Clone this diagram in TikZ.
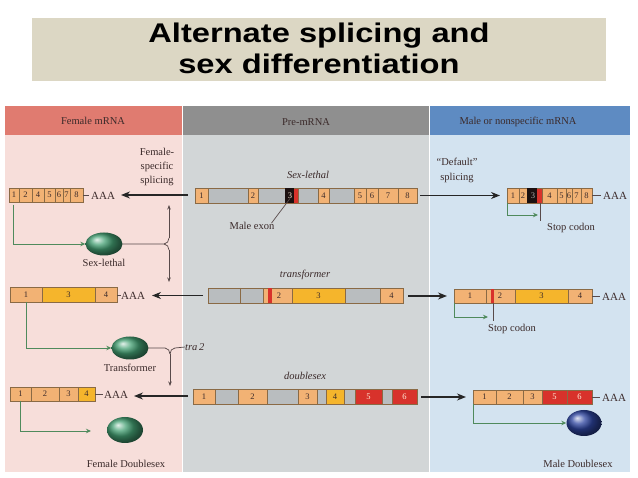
\documentclass[tikz,border=0pt]{standalone}
\usepackage{fontspec}
\setmainfont{Liberation Serif}
\newfontfamily\titlefont{Liberation Sans}
\usetikzlibrary{arrows.meta,calc,shapes.geometric}
\definecolor{titlebg}{HTML}{DCD7C4}
\definecolor{femhead}{HTML}{E07B70}
\definecolor{fembody}{HTML}{F7DEDA}
\definecolor{prehead}{HTML}{8F8F8F}
\definecolor{prebody}{HTML}{D2D6D7}
\definecolor{malehead}{HTML}{5E8BC2}
\definecolor{malebody}{HTML}{D3E3F0}
\definecolor{exlight}{HTML}{F2B274}
\definecolor{exyellow}{HTML}{F5B52C}
\definecolor{exgray}{HTML}{B9BDBF}
\definecolor{exred}{HTML}{D8322B}
\definecolor{exblack}{HTML}{1B1010}
\definecolor{exline}{HTML}{8A6A45}
\definecolor{txt}{HTML}{3B2A2A}
\definecolor{grn}{HTML}{4F8A5C}
\definecolor{protg}{HTML}{44A073}
\definecolor{protb}{HTML}{2E45A0}
\newcommand\myexon[7][txt]{%
  \filldraw[fill=#6, draw=exline, line width=0.4pt] (#2,#4) rectangle (#3,#5);
  \node[num, text=#1] (ex-#2-#4) at ($(#2,#4)!0.5!(#3,#5)$) {#7};}
\begin{document}
\begin{tikzpicture}[x=1pt,y=-1pt,
  lbl/.style={font=\fontsize{10.5}{12}\selectfont, text=txt, inner sep=0pt},
  gname/.style={font=\fontsize{10.5}{12}\selectfont\itshape, text=txt, inner sep=0pt},
  head/.style={font=\fontsize{10.5}{12}\selectfont, text=txt, inner sep=0pt},
  num/.style={font=\fontsize{8.5}{9}\selectfont, inner sep=0pt},
  aaa/.style={font=\fontsize{11}{12}\selectfont, text=txt, inner sep=0pt, anchor=west},
  bigarrow/.style={draw=black!85, line width=1.4pt, -{Stealth[length=9pt,width=7pt]}},
  grarrow/.style={draw=grn, line width=0.9pt, -{Stealth[length=5pt,width=4.5pt]}},
  thinl/.style={draw=txt!85, line width=0.7pt},
  tharrow/.style={draw=txt!85, line width=0.7pt, -{Stealth[length=4.5pt,width=3.5pt]}},
  protein/.style={ellipse, inner sep=0pt, minimum width=37pt, minimum height=23pt},
  titletext/.style={font=\titlefont\bfseries\fontsize{27}{30}\selectfont, inner sep=0pt, anchor=base}]
\useasboundingbox (0,0) rectangle (638,478);
\fill[white] (0,0) rectangle (638,478);
% title
\fill[titlebg] (32,18) rectangle (606,81);
\node[titletext] (title1) at (319,43) {\scalebox{1.21}[1]{Alternate splicing and}};
\node[titletext] (title2) at (319,74) {\scalebox{1.21}[1]{sex differentiation}};
% panels
\fill[fembody] (5,135) rectangle (182,472);
\fill[femhead] (5,106) rectangle (182,135);
\fill[prebody] (183,135) rectangle (429,472);
\fill[prehead] (183,106) rectangle (429,135);
\fill[malebody] (430,135) rectangle (630,472);
\fill[malehead] (430,106) rectangle (630,135);
\node[head] (hF) at (93,121) {Female mRNA};
\node[head] (hP) at (306,122) {Pre-mRNA};
\node[head] (hM) at (518,122) {Male or nonspecific mRNA};

% ===== Row 1: Sex-lethal =====
\node[gname] (gSxl) at (308,175) {Sex-lethal};
% pre-mRNA
\filldraw[fill=exgray, draw=exline, line width=0.4pt] (195,188) rectangle (417,203);
\myexon{195}{208}{188}{203}{exlight}{1}
\myexon{248}{258}{188}{203}{exlight}{2}
\filldraw[fill=exred, draw=exline, line width=0.4pt] (285,188) rectangle (298,203);
\fill[exblack] (285.2,188.2) rectangle (294,202.8);
\node[num, text=white!85!orange] (ex3pre) at (290,195.5) {3};
\myexon{318}{329}{188}{203}{exlight}{4}
\myexon{354}{366}{188}{203}{exlight}{5}
\myexon{366}{378}{188}{203}{exlight}{6}
\myexon{378}{398}{188}{203}{exlight}{7}
\myexon{398}{417}{188}{203}{exlight}{8}
\node[lbl] (maleexon) at (252,226) {Male exon};
\draw[thinl] (maleexon.north east) ++(-3,1) -- (ex3pre.south);
% female
\myexon{9}{19}{188}{202}{exlight}{1}
\myexon{19}{32}{188}{202}{exlight}{2}
\myexon{32}{44}{188}{202}{exlight}{4}
\myexon{44}{55}{188}{202}{exlight}{5}
\myexon{55}{63}{188}{202}{exlight}{6}
\myexon{63}{70}{188}{202}{exlight}{7}
\myexon{70}{83}{188}{202}{exlight}{8}
\draw[thinl] (83,195) -- (89,195);
\node[aaa] (aF1) at (91,195.5) {AAA};
\coordinate (preL1) at (188,195);
\coordinate (femR1) at (121,195);
\draw[bigarrow] (preL1) -- (femR1);
\node[lbl, align=center, font=\fontsize{10.5}{14}\selectfont] (fss) at (157,167) {Female-\\specific\\splicing};
% Sxl protein and brace
\node[protein, ball color=protg] (pSxl) at (104,244) {};
\node[lbl] (lSxl) at (104,263) {Sex-lethal};
\draw[grarrow] (ex-9-188.south) ++(-1,6.5) |- (pSxl.west);
\coordinate (br1) at (164,244);
\coordinate (br1u) at (169,238);
\coordinate (br1d) at (169,250);
\draw[thinl] (pSxl.east) -- (br1) to[out=0,in=-90] (br1u);
\draw[thinl] (br1) to[out=0,in=90] (br1d);
\coordinate (up1) at (169,205);
\coordinate (dn1) at (169,282);
\draw[tharrow] (br1u) -- (up1);
\draw[tharrow] (br1d) -- (dn1);
% male
\myexon{507}{519}{188}{203}{exlight}{1}
\myexon{519}{527}{188}{203}{exlight}{2}
\filldraw[fill=exred, draw=exline, line width=0.4pt] (527,188) rectangle (542,203);
\fill[exblack] (527.2,188.2) rectangle (537,202.8);
\node[num, text=white!70!black] (ex3m) at (533,195.5) {3};
\myexon{542}{557}{188}{203}{exlight}{4}
\myexon{557}{566}{188}{203}{exlight}{5}
\myexon{566}{572}{188}{203}{exlight}{6}
\myexon{572}{581}{188}{203}{exlight}{7}
\myexon{581}{592}{188}{203}{exlight}{8}
\draw[thinl] (592,195.5) -- (601,195.5);
\node[aaa] (aM1) at (603,196) {AAA};
\coordinate (preR1) at (420,195.5);
\coordinate (maleL1) at (500,195.5);
\draw[bigarrow] (preR1) -- (maleL1);
\node[lbl, align=center, font=\fontsize{10.5}{15}\selectfont] (dflt) at (457,170) {``Default''\\splicing};
\coordinate (sc1a) at (507,203);
\coordinate (sc1b) at (538,215);
\draw[grarrow] (sc1a) |- (sc1b);
\coordinate (sc1t) at (540,203);
\coordinate (sc1e) at (540,221);
\draw[thinl] (sc1t) -- (sc1e);
\node[lbl] (stop1) at (571,228) {Stop codon};

% ===== Row 2: transformer =====
\node[gname] (gtra) at (305,275) {transformer};
\filldraw[fill=exgray, draw=exline, line width=0.4pt] (208,288) rectangle (403,303);
\draw[exline, line width=0.4pt] (240,288) -- (240,303);
\myexon{263}{292}{288}{303}{exlight}{}
\fill[exred] (268,288.3) rectangle (272,302.7);
\node[num, text=txt] (ex2tra) at (279,295.5) {2};
\myexon{292}{345}{288}{303}{exyellow}{3}
\myexon{380}{403}{288}{303}{exlight}{4}
% female
\myexon{10}{42}{287}{302}{exlight}{1}
\myexon{42}{95}{287}{302}{exyellow}{3}
\myexon{95}{117}{287}{302}{exlight}{4}
\draw[thinl] (117,295) -- (121,295);
\node[aaa] (aF2) at (121,295.5) {AAA};
\coordinate (preL2) at (203,295.5);
\coordinate (femR2) at (152,295.5);
\draw[bigarrow] (preL2) -- (femR2);
\node[protein, ball color=protg] (pTra) at (130,348) {};
\node[lbl] (lTra) at (130,368) {Transformer};
\coordinate (g2s) at (26,302);
\draw[grarrow] (g2s) |- (pTra.west);
\coordinate (br2l) at (165,348);
\coordinate (br2r) at (175,348);
\coordinate (br2d) at (170,354);
\coordinate (dn2) at (170,386);
\node[gname, anchor=west] (tra2) at (185,347) {tra\,2};
\draw[thinl] (pTra.east) -- (br2l) to[out=0,in=90] (br2d);
\draw[thinl] (tra2.west) -- (br2r) to[out=180,in=90] (br2d);
\draw[tharrow] (br2d) -- (dn2);
% male
\myexon{454}{486}{289}{303}{exlight}{1}
\myexon{486}{515}{289}{303}{exlight}{}
\fill[exred] (491,289.3) rectangle (494,302.7);
\node[num, text=txt] (ex2tram) at (500,296) {2};
\myexon{515}{568}{289}{303}{exyellow}{3}
\myexon{568}{592}{289}{303}{exlight}{4}
\draw[thinl] (592,296) -- (600,296);
\node[aaa] (aM2) at (602,296.5) {AAA};
\coordinate (preR2) at (408,296);
\coordinate (maleL2) at (447,296);
\draw[bigarrow] (preR2) -- (maleL2);
\coordinate (sc2a) at (454,303);
\coordinate (sc2b) at (488,317);
\draw[grarrow] (sc2a) |- (sc2b);
\coordinate (sc2t) at (493,303);
\coordinate (sc2e) at (493,321);
\draw[thinl] (sc2t) -- (sc2e);
\node[lbl] (stop2) at (512,329) {Stop codon};

% ===== Row 3: doublesex =====
\node[gname] (gdsx) at (305,376) {doublesex};
\filldraw[fill=exgray, draw=exline, line width=0.4pt] (193,389) rectangle (417,404);
\myexon{193}{215}{389}{404}{exlight}{1}
\myexon{238}{267}{389}{404}{exlight}{2}
\myexon{298}{317}{389}{404}{exlight}{3}
\myexon{326}{344}{389}{404}{exyellow}{4}
\myexon[white!85!orange]{355}{382}{389}{404}{exred}{5}
\myexon[white!85!orange]{392}{417}{389}{404}{exred}{6}
% female
\myexon{10}{31}{387}{401}{exlight}{1}
\myexon{31}{59}{387}{401}{exlight}{2}
\myexon{59}{78}{387}{401}{exlight}{3}
\myexon{78}{95}{387}{401}{exyellow}{4}
\draw[thinl] (95,394) -- (103,394);
\node[aaa] (aF3) at (104,394.5) {AAA};
\coordinate (preL3) at (188,396);
\coordinate (femR3) at (134,396);
\draw[bigarrow] (preL3) -- (femR3);
\node[protein, ball color=protg, minimum width=36pt, minimum height=26pt] (pFD) at (125,430) {};
\node[lbl] (lFD) at (126,464) {Female Doublesex};
\coordinate (g3s) at (20,401);
\draw[grarrow] (g3s) |- (91,431);
% male
\myexon{473}{496}{390}{404}{exlight}{1}
\myexon{496}{523}{390}{404}{exlight}{2}
\myexon{523}{542}{390}{404}{exlight}{3}
\myexon[white!85!orange]{542}{567}{390}{404}{exred}{5}
\myexon[white!85!orange]{567}{592}{390}{404}{exred}{6}
\draw[thinl] (592,397) -- (600,397);
\node[aaa] (aM3) at (602,397.5) {AAA};
\coordinate (preR3) at (421,397);
\coordinate (maleL3) at (466,397);
\draw[bigarrow] (preR3) -- (maleL3);
\node[protein, ball color=protb, minimum width=35pt, minimum height=26pt] (pMD) at (584,423) {};
\node[lbl] (lMD) at (578,464) {Male Doublesex};
\coordinate (g4s) at (473,404);
\draw[grarrow] (g4s) |- (pMD.west);
\end{tikzpicture}
\end{document}
